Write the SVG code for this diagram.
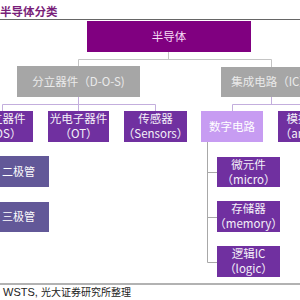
<svg xmlns="http://www.w3.org/2000/svg" width="300" height="300" viewBox="0 0 300 300">
<style>
.t{font-family:"Noto Sans CJK SC","Noto Sans",sans-serif;font-size:11.5px;text-anchor:middle}
.w{fill:#F4F0F8}
.g{fill:#EAEAEA}
.pur{fill:#7030A0}
.gray{fill:#A6A6A6}
.sl{fill:#625898}
.c{fill:none;stroke-width:1}
</style>
<rect width="300" height="300" fill="#FFFFFF"/>
<text x="0" y="16" style="font-family:'Noto Sans CJK SC',sans-serif;font-size:11.5px;font-weight:bold" fill="#7A1F7A">半导体分类</text>
<line x1="0" y1="19.5" x2="300" y2="19.5" stroke="#666666" stroke-width="1.2"/>
<g id="connectors">
<path class="c" stroke="#C4C4C4" d="M168.5 52V59.5M78.5 59.5H271.5M78.5 59.5V66M271.5 59.5V67"/>
<path class="c" stroke="#C3AEDD" d="M78.5 97V104.5M2.5 104.5H155.5M2.5 104.5V111M78.5 104.5V111M155.5 104.5V111"/>
<path class="c" stroke="#C3AEDD" d="M271.5 97V104.5M232.5 104.5H309.5M232.5 104.5V111M309.5 104.5V111"/>
<path class="c" stroke="#A8A8A8" d="M207.5 142V262.5M207.5 172.5H217M207.5 217.5H217M207.5 262.5H217"/>
</g>
<g id="semiconductor">
<rect x="87" y="21" width="164" height="31" fill="#800080"/>
<text class="t" x="169" y="40.5" fill="#F6DDF6">半导体</text>
</g>
<g id="discrete">
<rect x="17" y="66" width="123" height="31" class="gray"/>
<text class="t g" x="78.5" y="86">分立器件（D-O-S)</text>
</g>
<g id="ic">
<rect x="221" y="67" width="100" height="30" class="gray"/>
<text class="t g" x="271" y="86">集成电路（IC）</text>
</g>
<g id="ds">
<rect x="-28" y="111" width="61" height="31" class="pur"/>
<text class="t w" x="2.5" y="123">分立器件</text>
<text class="t w" x="2.5" y="138">（DS）</text>
</g>
<g id="ot">
<rect x="48" y="111" width="61" height="31" class="pur"/>
<text class="t w" x="78.5" y="123">光电子器件</text>
<text class="t w" x="78.5" y="138">（OT）</text>
</g>
<g id="sensors">
<rect x="124" y="111" width="63" height="31" class="pur"/>
<text class="t w" x="155.5" y="123">传感器</text>
<text class="t w" x="155.5" y="138">（Sensors）</text>
</g>
<g id="digital">
<rect x="201" y="111" width="62" height="31" fill="#C79CF2"/>
<text class="t" x="232" y="130.5" fill="#FFFFFF">数字电路</text>
</g>
<g id="analog">
<rect x="278" y="111" width="63" height="31" class="pur"/>
<text class="t w" x="309.5" y="123">模拟电路</text>
<text class="t w" x="309.5" y="138">（analog）</text>
</g>
<g id="diode">
<rect x="-12" y="156" width="61" height="31" class="sl"/>
<text class="t" x="18.5" y="175.5" fill="#FFFFFF" style="font-size:11px">二极管</text>
</g>
<g id="transistor">
<rect x="-12" y="202" width="61" height="30" class="sl"/>
<text class="t" x="18.5" y="221" fill="#FFFFFF" style="font-size:11px">三极管</text>
</g>
<g id="micro">
<rect x="217" y="157" width="63" height="30" class="pur"/>
<text class="t w" x="248.5" y="168.5">微元件</text>
<text class="t w" x="248.5" y="183.5">（micro）</text>
</g>
<g id="memory">
<rect x="217" y="201" width="63" height="31" class="pur"/>
<text class="t w" x="248.5" y="213">存储器</text>
<text class="t w" x="248.5" y="228">（memory）</text>
</g>
<g id="logic">
<rect x="217" y="246" width="63" height="31" class="pur"/>
<text class="t w" x="248.5" y="258">逻辑IC</text>
<text class="t w" x="248.5" y="273">（logic）</text>
</g>
<line x1="0" y1="284" x2="300" y2="284" stroke="#666666" stroke-width="1.2"/>
<text x="3" y="296" style="font-family:'Liberation Sans','Noto Sans CJK SC',sans-serif;font-size:11px" fill="#222222">WSTS, <tspan style="font-family:'Noto Sans CJK SC',sans-serif;font-size:10px">光大证券研究所整理</tspan></text>
</svg>
